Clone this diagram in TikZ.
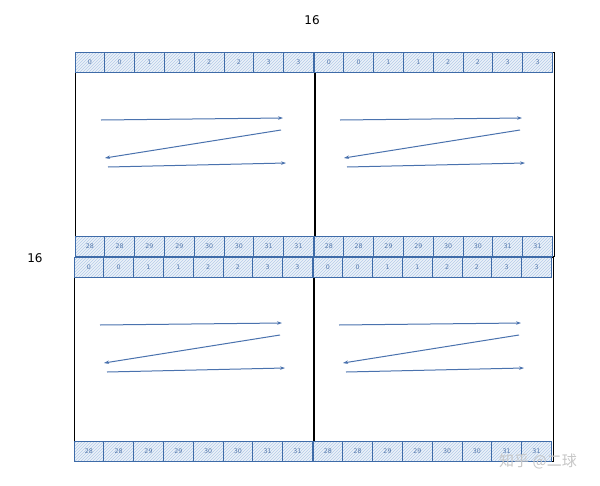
\documentclass[tikz,border=0pt]{standalone}
\usepackage{fontspec}
\setmainfont{DejaVu Sans}
\newfontfamily\cjk{Noto Sans CJK SC}
\usetikzlibrary{patterns,arrows.meta}
\definecolor{cellline}{HTML}{3E6BA8}
\definecolor{hatch}{HTML}{B4CCE8}
\definecolor{celltext}{HTML}{5478AC}
\definecolor{arrowc}{HTML}{4A72AE}
\begin{document}
\begin{tikzpicture}[x=1pt,y=-1pt,
  cellbox/.style={draw=cellline, line width=0.9pt, minimum width=29.8pt, minimum height=20pt, inner sep=0pt,
    font=\fontsize{6.3}{7}\selectfont, text=celltext, preaction={fill=hatch!25},
    pattern=north east lines, pattern color=hatch},
  frame/.style={draw=black, line width=0.8pt},
  arr/.style={draw=arrowc, line width=1pt, -{Stealth[length=5pt,width=3.5pt]}},
  lbl/.style={font=\fontsize{12}{14}\selectfont, text=black}]
\useasboundingbox (0,0) rectangle (600,485);
\fill[white] (0,0) rectangle (600,485);
\foreach \q/\ox/\oy in {a/75/52, b/314/52, c/74/257, d/313/257}{
  \draw[frame] (\ox,\oy) rectangle ++(240,204);
  \foreach \i in {0,...,7}{
    \pgfmathtruncatemacro\n{int(\i/2)}
    \pgfmathtruncatemacro\m{28+int(\i/2)}
    \node[cellbox] (\q t\i) at (\ox+14.9+\i*29.8, \oy+10) {\n};
    \node[cellbox] (\q b\i) at (\ox+14.9+\i*29.8, \oy+194) {\m};
  }
  \coordinate (\q p1) at (\ox+26,\oy+68);
  \coordinate (\q p2) at (\ox+208,\oy+66);
  \coordinate (\q p3) at (\ox+206,\oy+78);
  \coordinate (\q p4) at (\ox+30,\oy+106);
  \coordinate (\q p5) at (\ox+33,\oy+115);
  \coordinate (\q p6) at (\ox+211,\oy+111);
  \draw[arr] (\q p1) -- (\q p2);
  \draw[arr] (\q p3) -- (\q p4);
  \draw[arr] (\q p5) -- (\q p6);
}
\node[lbl] (top16) at (312,20) {16};
\node[lbl] (left16) at (35,258) {16};
\node[font=\cjk\fontsize{15}{17}\selectfont, text=black!22] (wm) at (538,461) {知乎 @二球};
\end{tikzpicture}
\end{document}
